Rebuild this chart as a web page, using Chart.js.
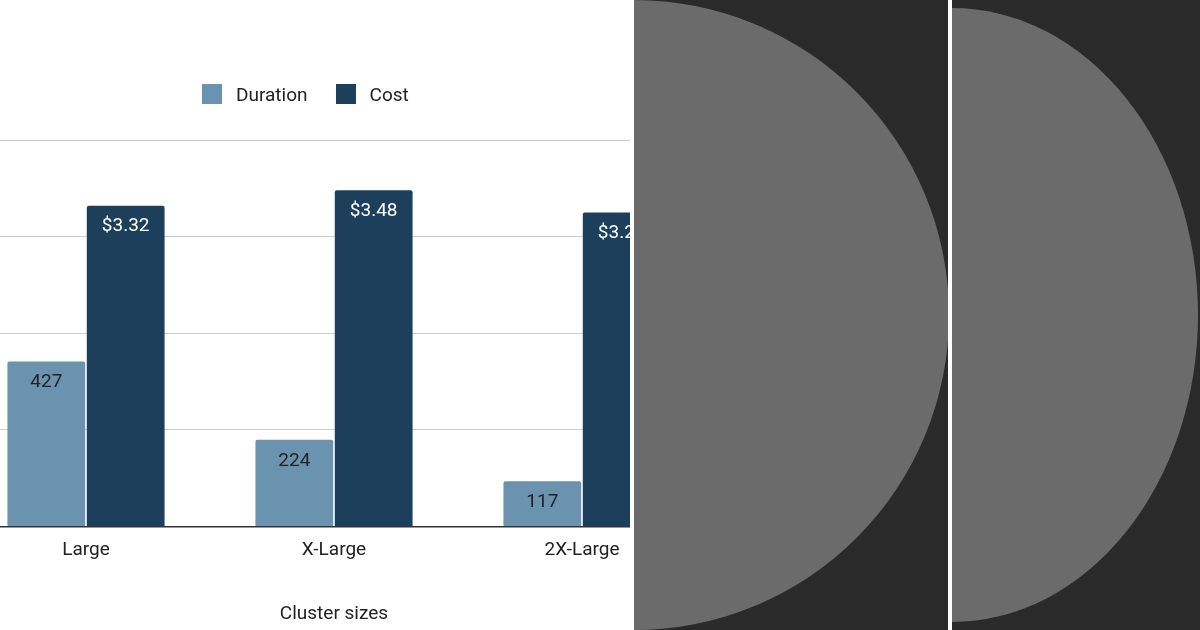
<!DOCTYPE html>
<html>
<head>
<meta charset="utf-8">
<script src="https://cdn.jsdelivr.net/npm/chart.js@4/dist/chart.umd.min.js"></script>
<style>
  body { margin: 0; width: 1200px; height: 630px; overflow: hidden; background: #fff; font-family: Roboto, sans-serif; position: relative; }
  #left { position: absolute; left: 0; top: 0; width: 630px; height: 630px; overflow: hidden; }
  #wrap { position: absolute; left: -38px; top: 0; width: 744px; height: 630px; }
  #legend { position: absolute; top: 83px; left: 202px; font-size: 19px; color: #222; display: flex; gap: 28px; }
  #legend span.sw { display: inline-block; width: 20px; height: 20px; vertical-align: -3px; margin-right: 14px; }
  .panel { position: absolute; top: 0; height: 630px; background: #2a2a2a; overflow: hidden; }
  .half { position: absolute; background: #6b6b6b; border-radius: 50%; }
</style>
</head>
<body>
<div id="left">
  <div id="wrap"><canvas id="chart"></canvas></div>
  <div id="legend">
    <div><span class="sw" style="background:#6a93b0"></span>Duration</div>
    <div><span class="sw" style="background:#1c3f5b"></span>Cost</div>
  </div>
</div>
<div class="panel" style="left:634px;width:314px"><div class="half" style="left:-315px;top:0;width:630px;height:630px"></div></div>
<div class="panel" style="left:952px;width:248px"><div class="half" style="left:-246px;top:8px;width:492px;height:614px"></div></div>
<script>
var categories = ["Large", "X-Large", "2X-Large"];
var duration = [427, 224, 117];
var cost = [3.32, 3.48, 3.25];
var costLabels = ["$3.32", "$3.48", "$3.25"];

var barLabels = {
  id: 'barLabels',
  afterDatasetsDraw: function (chart) {
    var ctx = chart.ctx;
    ctx.save();
    ctx.font = '19px Roboto';
    ctx.textAlign = 'center';
    ctx.textBaseline = 'middle';
    chart.data.datasets.forEach(function (ds, di) {
      chart.getDatasetMeta(di).data.forEach(function (bar, i) {
        ctx.fillStyle = di == 0 ? '#222' : '#fff';
        var txt = di == 0 ? String(duration[i]) : costLabels[i];
        ctx.fillText(txt, bar.x, bar.y + 21);
      });
    });
    ctx.restore();
  }
};

new Chart(document.getElementById('chart').getContext('2d'), {
  type: 'bar',
  data: {
    labels: categories,
    datasets: [
      { label: 'Duration', data: duration, backgroundColor: '#6a93b0', yAxisID: 'y', borderRadius: { topLeft: 2, topRight: 2 }, borderSkipped: 'bottom' },
      { label: 'Cost', data: cost, backgroundColor: '#1c3f5b', yAxisID: 'y1', borderRadius: { topLeft: 2, topRight: 2 }, borderSkipped: 'bottom' }
    ]
  },
  options: {
    responsive: true,
    maintainAspectRatio: false,
    animation: false,
    layout: { padding: { top: 140, left: 0, right: 0 } },
    datasets: { bar: { categoryPercentage: 0.64, barPercentage: 0.98 } },
    plugins: { legend: { display: false }, tooltip: { enabled: false } },
    scales: {
      x: {
        grid: { display: false, drawTicks: false },
        border: { color: '#333', width: 1.5 },
        ticks: { color: '#222', font: { size: 19, family: 'Roboto' }, padding: 12 },
        title: { display: true, text: 'Cluster sizes', color: '#222', font: { size: 19, family: 'Roboto' }, padding: { top: 30 } }
      },
      y: { display: true, min: 0, max: 1000, ticks: { display: false, stepSize: 250 }, grid: { color: '#ccc', drawTicks: false }, border: { display: false } },
      y1: { display: false, min: 0, max: 4, position: 'right', grid: { display: false } }
    }
  },
  plugins: [barLabels]
});
</script>
</body>
</html>
